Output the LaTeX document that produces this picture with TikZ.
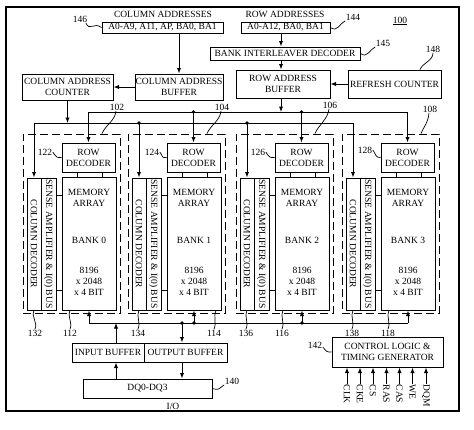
\documentclass[tikz,border=0pt]{standalone}
\usepackage{fontspec}
\setmainfont{Liberation Serif}
\usetikzlibrary{arrows.meta,calc}
\begin{document}
\begin{tikzpicture}[x=1pt,y=-1pt,
  every node/.style={font=\fontsize{9.5}{11}\selectfont, inner sep=0.5pt},
  box/.style={draw, line width=1pt, align=center, inner sep=1pt},
  bankbox/.style={draw, line width=1pt, dash pattern=on 8pt off 4pt, minimum width=97, minimum height=179},
  arr/.style={line width=0.9pt, -{Latex[length=5.5pt,width=4.2pt]}},
  wire/.style={line width=0.9pt},
  sq/.style={line width=0.7pt},
  lbl/.style={inner sep=0.5pt}
]
\useasboundingbox (0,0) rectangle (474,429);
\draw[line width=1.2pt] (6,7) rectangle (459,411);

% top inputs
\node (tColA) at (163,14) {COLUMN ADDRESSES};
\node[box, minimum width=121, minimum height=11, inner sep=0.5pt] (colA) at (162.5,27.5) {A0-A9, A11, AP, BA0, BA1};
\node (tRowA) at (285,14) {ROW ADDRESSES};
\node[box, minimum width=89, minimum height=11, inner sep=0.5pt] (rowA) at (285.5,27.5) {A0-A12, BA0, BA1};
\node (n100) at (400,21) {\underline{100}};
\node[lbl] (l146) at (80,19) {146};
\node[lbl] (l144) at (353,17) {144};
\node[lbl] (l145) at (383,43) {145};
\node[lbl] (l148) at (433,49) {148};

\node[box, minimum width=150, minimum height=13, inner sep=0.5pt] (bid) at (285,53.5) {BANK INTERLEAVER DECODER};
\node[box, minimum width=94, minimum height=28] (rab) at (283,84) {ROW ADDRESS\\BUFFER};
\node[box, minimum width=93, minimum height=28, inner sep=0.5pt] (ref) at (394.5,84) {REFRESH COUNTER};
\node[box, minimum width=88, minimum height=26, inner sep=0.5pt] (cab) at (179,87) {COLUMN ADDRESS\\BUFFER};
\node[box, minimum width=91, minimum height=26, inner sep=0.5pt] (cac) at (67.5,87) {COLUMN ADDRESS\\COUNTER};

\draw[arr] (cab.north |- colA.south) -- (cab.north);
\draw[arr] ([xshift=-4.5pt]rowA.south) -- ([xshift=-4.5pt]rowA.south |- bid.north);
\draw[arr] ([xshift=-4pt]bid.south) -- ([xshift=-4pt]bid.south |- rab.north);
\draw[arr] (ref.west) -- (rab.east);
\draw[arr] (cab.west) -- (cac.east);

\draw[sq] ([xshift=-2pt]l146.south east) .. controls +(4,9) and +(-8,-6) .. (colA.west);
\draw[sq] (rowA.east) .. controls +(7,5) and +(-6,3) .. (l144.south west);
\draw[sq] (bid.east) .. controls +(7,5) and +(-6,3) .. (l145.south west);
\draw[sq] (l148.south) .. controls +(0,8) and +(3,-7) .. ([xshift=25.5pt]ref.north);

% buses
\coordinate (rowbus) at (0,112);
\coordinate (colbus) at (0,123);
\coordinate (databus) at (0,323);

\foreach \i/\dx/\tl/\tlx/\tly/\rl/\rlx/\rly/\cl/\clx/\ml/\mlx/\mxs in {
 0/0/102/117/107/122/45/152/132/35/112/70/-19,
 1/105/104/222/107/124/152/152/134/138/114/214/22,
 2/213/106/330/105/126/258/152/136/246/116/282/-19,
 3/319/108/430/109/128/365/150/138/352/118/388/-19}
{
 \node[bankbox] (bk\i) at ({71.5+\dx},223.5) {};
 \node[box, minimum width=53, minimum height=29] (rd\i) at ({88.5+\dx},157.5) {ROW\\DECODER};
 \node[box, minimum width=54, minimum height=133] (ma\i) at ({89+\dx},243.5) {};
 \node (mt\i) at ({89+\dx},197.5) [align=center] {MEMORY\\ARRAY};
 \node (bn\i) at ({89+\dx},240) {BANK \i};
 \node (sz\i) at ({89+\dx},281) [align=center] {8196\\x 2048\\x 4 BIT};
 \node[box, rotate=-90, minimum width=132, minimum height=14, inner sep=0pt] (cd\i) at ({34+\dx},244) {COLUMN DECODER};
 \node[box, rotate=-90, minimum width=132, minimum height=15, inner sep=0pt] (sa\i) at ({48.5+\dx},244) {SENSE AMPLIFIER \& I(0) BUS};
 % internal links
 \draw[wire] ([yshift=49pt]sa\i.north) -- ([yshift=49pt]sa\i.north -| ma\i.west);
 \draw[wire] ([yshift=-46pt]sa\i.north) -- ([yshift=-46pt]sa\i.north -| ma\i.west);
 \draw[wire] ([xshift=-11.5pt]rd\i.south) -- ([xshift=-11.5pt]rd\i.south |- ma\i.north);
 \draw[wire] ([xshift=13.5pt]rd\i.south) -- ([xshift=13.5pt]rd\i.south |- ma\i.north);
 % drops
 \draw[arr] (rd\i.north |- rowbus) -- (rd\i.north);
 \draw[arr] (cd\i.west |- colbus) -- (cd\i.west);
 \draw[arr] (ma\i.south |- databus) -- (ma\i.south);
 % labels
 \node[lbl] (lt\i) at (\tlx,\tly) {\tl};
 \draw[sq] ([xshift=-1pt]lt\i.south) .. controls +(-1,10) and +(4,-9) .. ([xshift=30.5pt]bk\i.north);
 \node[lbl] (lr\i) at (\rlx,\rly) {\rl};
 \draw[sq] (lr\i.east) .. controls +(4,6) and +(-5,0) .. (rd\i.west);
 \node[lbl] (lc\i) at (\clx,333) {\cl};
 \draw[sq] (lc\i.north) .. controls +(3,-7) and +(-3,7) .. (cd\i.east);
 \node[lbl] (lm\i) at (\mlx,333) {\ml};
 \draw[sq] (lm\i.north) .. controls +(3,-7) and +(-3,7) .. ([xshift=\mxs pt]ma\i.south);
}

\draw[wire] (rd0.north |- rowbus) -- (rd3.north |- rowbus);
\draw[wire] (cd0.west |- colbus) -- (cd3.west |- colbus);
\draw[wire] (ma0.south |- databus) -- (ma3.south |- databus);
\draw[arr] ([xshift=-2pt]rab.south) -- ([xshift=-2pt]rab.south |- rowbus);
\draw[arr] (cac.south) -- (cac.south |- colbus);
\fill (rd1.north |- rowbus) circle (1.9pt);
\fill (rd2.north |- rowbus) circle (1.9pt);
\fill (cd1.west |- colbus) circle (1.9pt);
\fill (cd2.west |- colbus) circle (1.9pt);
\fill (ma1.south |- databus) circle (1.9pt);
\fill (ma2.south |- databus) circle (1.9pt);

% I/O
\node[box, minimum width=72, minimum height=19, inner sep=0.5pt] (inb) at (108,352.5) {INPUT BUFFER};
\node[box, minimum width=83, minimum height=19, inner sep=0.5pt] (outb) at (185.5,352.5) {OUTPUT BUFFER};
\node[box, minimum width=129, minimum height=19] (dq) at (147.5,388.5) {DQ0-DQ3};
\node (io) at (173,406) {I/O};
\node[lbl] (l140) at (232,381) {140};
\draw[sq] (dq.east) .. controls +(7,2) and +(-6,4) .. (l140.south west);

\draw[arr] ([xshift=8pt]inb.north) -- ([xshift=8pt]inb.north |- databus);
\draw[arr] ([xshift=-3.5pt]outb.north |- databus) -- ([xshift=-3.5pt]outb.north);
\fill ([xshift=-3.5pt]outb.north |- databus) circle (1.9pt);
\draw[arr] ([xshift=8pt]inb.south |- dq.north) -- ([xshift=8pt]inb.south);
\draw[arr] ([xshift=-3.5pt]outb.south) -- ([xshift=-3.5pt]outb.south |- dq.north);

% control logic
\node[box, minimum width=111, minimum height=30] (ctl) at (387.5,352) {CONTROL LOGIC \&\\TIMING GENERATOR};
\node[lbl] (l142) at (315,345) {142};
\draw[sq] ([yshift=-2pt]l142.east) .. controls +(4,5) and +(-5,0) .. (ctl.west);
\foreach \k/\x/\t in {1/347/CLK,2/360/CKE,3/373/CS,4/386.5/RAS,5/399.5/CAS,6/412.5/WE,7/426/DQM}
{
 \node[rotate=-90, anchor=west] (s\k) at (\x,384) {\t};
 \draw[arr] (s\k.west) -- (s\k.west |- ctl.south);
}
\end{tikzpicture}
\end{document}
